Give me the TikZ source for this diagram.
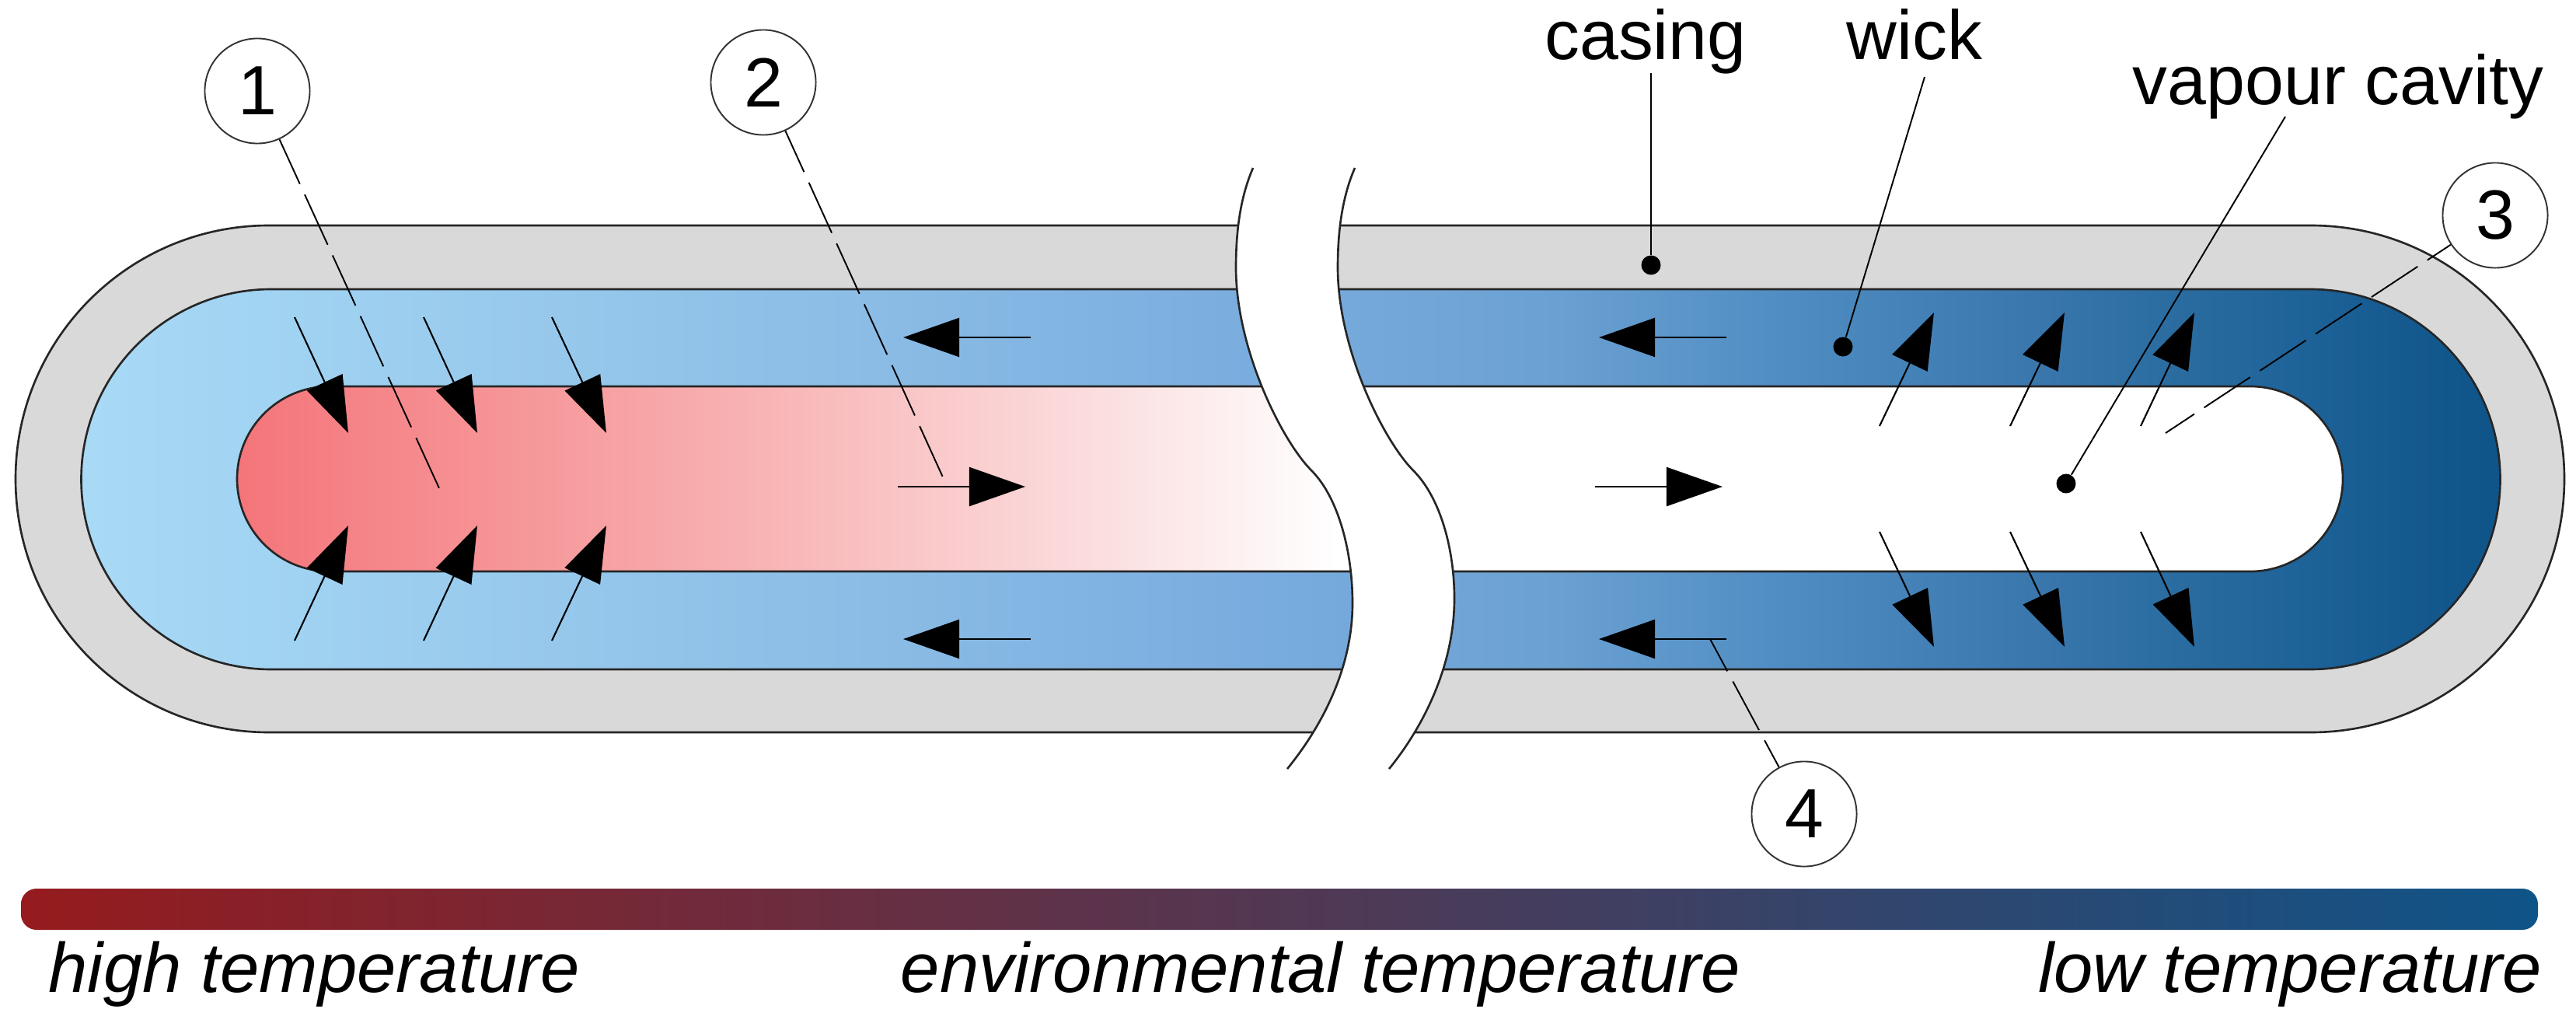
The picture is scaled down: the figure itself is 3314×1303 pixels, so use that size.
\documentclass[tikz,border=0pt]{standalone}
\usepackage{fontspec}
\setmainfont{Liberation Sans}
\usetikzlibrary{arrows.meta}
\definecolor{casinggrey}{HTML}{D9D9D9}
\definecolor{barhot}{HTML}{951B1E}
\definecolor{barcold}{HTML}{0F5488}
\pgfdeclarehorizontalshading{wickgrad}{100bp}{
  rgb(0bp)=(0.66,0.855,0.965); rgb(25bp)=(0.66,0.855,0.965);
  rgb(41bp)=(0.545,0.74,0.90); rgb(49bp)=(0.48,0.68,0.875);
  rgb(55.4bp)=(0.42,0.63,0.825); rgb(60.3bp)=(0.31,0.55,0.76);
  rgb(65.1bp)=(0.23,0.47,0.68); rgb(68.3bp)=(0.165,0.424,0.627);
  rgb(70.7bp)=(0.12,0.39,0.60); rgb(73.1bp)=(0.08,0.35,0.56);
  rgb(75bp)=(0.06,0.33,0.535); rgb(100bp)=(0.06,0.33,0.535)}
\pgfdeclarehorizontalshading{vapourgrad}{100bp}{
  rgb(0bp)=(0.957,0.459,0.478); rgb(25bp)=(0.957,0.459,0.478);
  rgb(37.8bp)=(0.973,0.71,0.714); rgb(45.2bp)=(0.984,0.863,0.867);
  rgb(51.1bp)=(1,1,1); rgb(100bp)=(1,1,1)}
\tikzset{
  wall/.style={black!85, line width=0.75pt},
  flow/.style={black, line width=0.6pt, -{Triangle[length=0.72cm, width=0.5cm]}},
  leader/.style={black, line width=0.55pt},
  dashleader/.style={leader, dash pattern=on 0.71cm off 0.15cm, dash phase=#1},
  numbered/.style={draw=black!80, fill=white, circle, line width=0.55pt, minimum size=1.35cm, inner sep=0pt, font=\fontsize{25.5}{30}\selectfont},
  dotmark/.style={fill=black, circle, minimum size=0.25cm, inner sep=0pt},
  lab/.style={anchor=base, inner sep=0pt, font=\fontsize{25.5}{30}\selectfont},
  templab/.style={lab, font=\fontsize{25.7}{30}\selectfont\itshape}
}
\begin{document}
\begin{tikzpicture}[x=0.01cm, y=0.01cm]
        \useasboundingbox (0,0) rectangle (3314,-1303);
        \filldraw [wall, fill=casinggrey] (346,-290) -- (2973,-290) arc (90:-90:326) -- (346,-942) arc (270:90:326) -- cycle;
        \shadedraw [wall, shading=wickgrad] (349,-372) -- (2972,-372) arc (90:-90:244.5) -- (349,-861) arc (270:90:244.5) -- cycle;
        \shadedraw [wall, shading=vapourgrad] (424,-497) -- (2895,-497) arc (90:-90:119) -- (424,-735) arc (270:90:119) -- cycle;
        \fill [white] (1612,-216) .. controls (1595,-255) and (1590,-300) .. (1590,-344)
          .. controls (1590,-450) and (1650,-568) .. (1687,-605)
          .. controls (1722,-640) and (1740,-710) .. (1740,-776)
          .. controls (1740,-860) and (1700,-935) .. (1656,-989)
          -- (1787,-989) .. controls (1831,-935) and (1871,-856) .. (1871,-770)
          .. controls (1871,-706) and (1853,-640) .. (1818,-605)
          .. controls (1781,-568) and (1721,-450) .. (1721,-344)
          .. controls (1721,-300) and (1726,-255) .. (1743,-216) -- cycle;
        \draw [wall] (1612,-216) .. controls (1595,-255) and (1590,-300) .. (1590,-344)
          .. controls (1590,-450) and (1650,-568) .. (1687,-605)
          .. controls (1722,-640) and (1740,-710) .. (1740,-776)
          .. controls (1740,-860) and (1700,-935) .. (1656,-989);
        \draw [wall] (1743,-216) .. controls (1726,-255) and (1721,-300) .. (1721,-344)
          .. controls (1721,-450) and (1781,-568) .. (1818,-605)
          .. controls (1853,-640) and (1871,-706) .. (1871,-770)
          .. controls (1871,-856) and (1831,-935) .. (1787,-989);
        \foreach \tx/\ty/\hx/\hy [count=\i] in {379/408/448/557, 545/408/614/557, 710/408/780/557,
            379/824/448/676, 545/824/614/676, 710/824/780/676,
            2418/548/2488/402, 2586/548/2656/402, 2754/548/2823/402,
            2418/684/2488/832, 2586/684/2656/832, 2754/684/2823/832,
            1326/434/1162/434, 2221/434/2057/434, 1326/822/1162/822, 2221/822/2057/822,
            1155/626/1319/626, 2052/626/2216/626} {
          \coordinate (tail\i) at (\tx,-\ty);
          \coordinate (head\i) at (\hx,-\hy);
          \draw [flow] (tail\i) -- (head\i);
        }
        \node [numbered] (one) at (331,-117) {1};
        \node [numbered] (two) at (982,-106) {2};
        \node [numbered] (three) at (3210,-277) {3};
        \node [numbered] (four) at (2321,-1047) {4};
        \coordinate (oneend) at (565,-628);
        \coordinate (twoend) at (1214,-616);
        \coordinate (threeend) at (2786,-557);
        \coordinate (fourend) at (2200,-822);
        \draw [dashleader=0.08cm] (one) -- (oneend);
        \draw [dashleader=0.13cm] (two) -- (twoend);
        \draw [dashleader=0.35cm] (three) -- (threeend);
        \draw [dashleader=0.32cm] (four) -- (fourend);
        \node [lab] (casing) at (2117,-77) {casing};
        \node [lab] (wick) at (2463,-77) {wick};
        \node [lab] (vapour) at (3008,-134) {vapour cavity};
        \node [dotmark] (casingdot) at (2124,-341) {};
        \node [dotmark] (wickdot) at (2371,-446) {};
        \node [dotmark] (vapourdot) at (2658,-622) {};
        \coordinate (casingtop) at (2124,-94);
        \coordinate (wicktop) at (2476,-99);
        \coordinate (vapourtop) at (2940,-150);
        \draw [leader] (casingtop) -- (casingdot);
        \draw [leader] (wicktop) -- (wickdot);
        \draw [leader] (vapourtop) -- (vapourdot);
        \shade [left color=barhot, right color=barcold, rounded corners=0.2cm] (27,-1143) rectangle (3265,-1196);
        \node [templab, anchor=base west] (hot) at (62,-1276) {high temperature};
        \node [templab] (env) at (1699,-1276) {environmental temperature};
        \node [templab, anchor=base east] (cold) at (3271,-1276) {low temperature};
\end{tikzpicture}
\end{document}
